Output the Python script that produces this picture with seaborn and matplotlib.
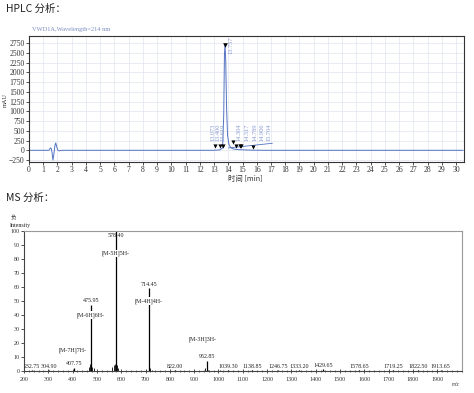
import matplotlib
matplotlib.use('Agg')
import matplotlib.pyplot as plt
import seaborn as sns
import pandas as pd
from matplotlib.ticker import MultipleLocator

# ---------------- HPLC data ----------------
hplc_time = [0, 1.40, 1.50, 1.56, 1.62, 1.68, 1.74, 1.82, 1.88, 1.94, 2.02, 2.12, 2.30,
             13.00, 13.40, 13.60, 13.68, 13.73, 13.77, 13.82, 13.88, 13.95, 14.05,
             14.20, 14.40, 14.80, 15.50, 16.50, 30.5]
hplc_signal = [0, 0, 60, 50, -60, -250, -120, 120, 190, 100, 5, -15, 0,
               0, 10, 60, 900, 2450, 2720, 2300, 1100, 380, 140,
               60, 30, 15, 5, 0, 0]
peak_times = [13.073, 13.400, 13.619, 14.304, 14.517, 14.789, 14.906, 15.704]
peak_marks = [100, 100, 100, 205, 100, 100, 100, 80]
peak_labels = ["13.073", "13.400", "13.619", "14.304", "14.517", "14.789", "14.906", "15.704"]
main_peak_time = 13.757
main_peak_mark = 2700
main_peak_label = "13.757"
baseline_time = [14.0, 17.1]
baseline_signal = [60, 180]

# label layout (minutes) for the rotated retention-time labels
label_x = [12.93, 13.28, 13.63, 14.76, 15.32, 15.88, 16.37, 16.87]

# ---------------- MS data ----------------
ms_mz = [232.75, 304.90, 407.75, 475.95, 578.40, 714.45, 822.00, 952.85, 1039.30,
         1138.85, 1246.75, 1333.20, 1429.65, 1578.65, 1719.25, 1822.50, 1913.65]
ms_int = [1.0, 1.0, 2.5, 47, 100, 59, 0.8, 7, 0.8,
          0.6, 0.6, 0.6, 1.2, 0.6, 0.6, 0.6, 0.6]
ms_text = ["232.75", "304.90", "407.75", "475.95", "578.40", "714.45", "822.00", "952.85",
           "1039.30", "1138.85", "1246.75", "1333.20", "1429.65", "1578.65", "1719.25",
           "1822.50", "1913.65"]
ms_text_y = [3, 3, 5.7, 50.7, 97, 62, 3, 10, 3, 3, 3, 3, 3.6, 3, 3, 3, 3]
minor_mz = [468, 472, 479, 490, 563, 570, 574, 582, 586, 700, 718, 726, 944, 958, 1005]
minor_int = [3, 5, 3, 2, 3, 4, 5, 4, 2, 1, 2, 1, 2, 1, 0.8]
ion_labels = ["[M-7H]7H-", "[M-6H]6H-", "[M-5H]5H-", "[M-4H]4H-", "[M-3H]3H-"]
ion_mz = [401, 475, 578, 714, 936]
ion_y = [15, 40, 84, 50, 23]

sns.set_theme(style='white')
plt.rcParams['font.family'] = ['Liberation Serif', 'Noto Sans CJK SC', 'DejaVu Sans']

W, H = 474, 393
fig = plt.figure(figsize=(W / 100, H / 100), dpi=100)
fig.patch.set_facecolor('white')


def box(l, t, r, b):
    return [l / W, 1 - b / H, (r - l) / W, (b - t) / H]


cjk = ['Noto Sans CJK SC', 'DejaVu Sans']

# ================= HPLC =================
fig.text(6 / W, 1 - 9 / H, "HPLC 分析：", fontsize=7.5, family=cjk, va='center', color='#222')
ax1 = fig.add_axes(box(29, 36, 464, 162))
ax1.set_facecolor('white')
df = pd.DataFrame({'t': hplc_time, 's': hplc_signal})
sns.lineplot(data=df, x='t', y='s', ax=ax1, color='#5473c2', lw=0.7, estimator=None, sort=False)
sns.lineplot(x=baseline_time, y=baseline_signal, ax=ax1, color='#5473c2', lw=0.6, estimator=None)
sns.scatterplot(x=peak_times, y=peak_marks, ax=ax1, marker='v', s=9, color='black', linewidth=0, zorder=5)
sns.scatterplot(x=[main_peak_time], y=[main_peak_mark], ax=ax1, marker='v', s=11, color='black',
                linewidth=0, zorder=5)
for xl, lab in zip(label_x, peak_labels):
    ax1.text(xl, 250, lab, rotation=90, fontsize=4.6, color='#8a9bd0', ha='center', va='bottom')
ax1.text(main_peak_time + 0.45, 2920, main_peak_label, rotation=90, fontsize=4.6, color='#8a9bd0',
         ha='center', va='top')

ax1.set_xlim(0, 30.56)
ax1.set_ylim(-300, 2930)
ax1.set_xticks(range(0, 31))
ax1.set_yticks(range(-250, 2751, 250))
ax1.grid(True, color='#e0e5ee', lw=0.5)
ax1.tick_params(labelsize=5.5, length=2, width=0.6, pad=1.2, colors='#333',
                bottom=True, left=True, direction='out')
for sp in ax1.spines.values():
    sp.set_color('#333')
    sp.set_linewidth(0.8)
ax1.set_xlabel("")
ax1.set_ylabel("")
fig.text(32 / W, 1 - 29 / H, "VWD1A,Wavelength=214 nm", fontsize=4.6, color='#7b8cc0', va='center')
fig.text(5 / W, 1 - 100 / H, "mAU", rotation=90, fontsize=4.5, color='#333', va='center', ha='center')
fig.text(245 / W, 1 - 179 / H, "时间 [min]", fontsize=5.3, family=cjk, color='#333', ha='center',
         va='center')

# ================= MS =================
fig.text(6 / W, 1 - 198 / H, "MS 分析：", fontsize=7.5, family=cjk, va='center', color='#222')
fig.text(11 / W, 1 - 217 / H, "负", fontsize=4, family=cjk, va='center', color='#333')
fig.text(10 / W, 1 - 226 / H, "Intensity", fontsize=4.3, va='center', color='#222')

ax2 = fig.add_axes(box(24, 231, 462, 371))
ax2.set_facecolor('white')
ax2.vlines(minor_mz, 0, minor_int, color='black', lw=0.6)
ax2.vlines(ms_mz, 0, ms_int, color='black', lw=0.9)
for mz, y, t in zip(ms_mz, ms_text_y, ms_text):
    ax2.text(mz, y, t, fontsize=4.3, ha='center', va='center', color='#222')
for mz, y, t in zip(ion_mz, ion_y, ion_labels):
    ax2.text(mz, y, t, fontsize=4.3, ha='center', va='center', color='#222',
             bbox=dict(boxstyle='square,pad=0.15', fc='white', ec='none'))

ax2.set_xlim(200, 2002)
ax2.set_ylim(0, 100)
ax2.set_xticks(range(200, 2000, 100))
ax2.set_yticks(range(0, 101, 10))
ax2.xaxis.set_minor_locator(MultipleLocator(20))
ax2.tick_params(axis='x', which='major', labelsize=4.3, length=3, width=0.6, pad=3,
                direction='inout', colors='#333', bottom=True)
ax2.tick_params(axis='x', which='minor', length=1.5, width=0.5, direction='inout', bottom=True,
                colors='#333')
ax2.tick_params(axis='y', labelsize=4.3, length=2, width=0.6, pad=1, direction='out',
                colors='#333', left=True)
ax2.grid(False)
for name, sp in ax2.spines.items():
    sp.set_linewidth(0.8)
    sp.set_color('#444' if name in ('left', 'bottom') else '#999')
ax2.set_xlabel("")
ax2.set_ylabel("")
fig.text(456 / W, 1 - 385 / H, "m/z", fontsize=4, style='italic', color='#333', ha='center',
         va='center')

fig.savefig('out.png', dpi=100)
